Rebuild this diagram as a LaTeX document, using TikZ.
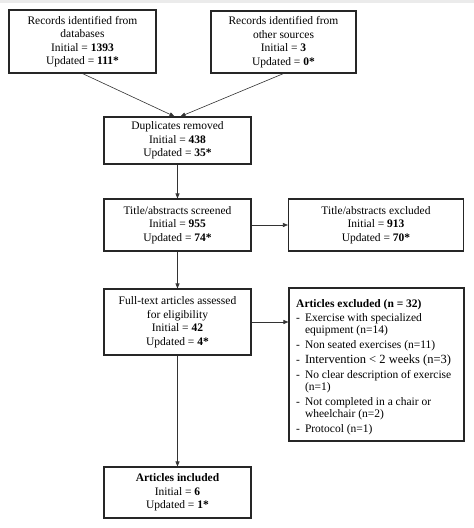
\documentclass[tikz,border=0pt]{standalone}
\usepackage{fontspec}
\setmainfont{Liberation Serif}
\usetikzlibrary{arrows.meta,calc}
\begin{document}
\begin{tikzpicture}[x=1pt,y=-1pt,
  box/.style={draw=black!85, line width=1.1pt, align=center, inner sep=0pt,
    font=\fontsize{11.5}{13.5}\selectfont},
  arr/.style={draw=black!80, line width=0.6pt, -{Triangle[length=5pt,width=4pt]}}]
\useasboundingbox (0,0) rectangle (474,528);
\fill[white] (0,0) rectangle (474,528);
\fill[black!8] (0,0) rectangle (474,2.5);
\node[box, minimum width=147pt, minimum height=63pt] (b1) at (82.5,41.5)
  {Records identified from\\databases\\Initial = \textbf{1393}\\Updated = \textbf{111*}};
\node[box, minimum width=145pt, minimum height=62pt] (b2) at (283.5,42)
  {Records identified from\\other sources\\Initial = \textbf{3}\\Updated = \textbf{0*}};
\node[box, minimum width=147pt, minimum height=47pt] (dup) at (177.5,140.5)
  {Duplicates removed\\Initial = \textbf{438}\\Updated = \textbf{35*}};
\node[box, minimum width=147pt, minimum height=52pt] (scr) at (177.5,225)
  {Title/abstracts screened\\Initial = \textbf{955}\\Updated = \textbf{74*}};
\node[box, minimum width=175pt, minimum height=52pt] (exc) at (376,225)
  {Title/abstracts excluded\\Initial = \textbf{913}\\Updated = \textbf{70*}};
\node[box, minimum width=147pt, minimum height=66pt] (full) at (177.5,322)
  {Full-text articles assessed\\for eligibility\\Initial = \textbf{42}\\Updated = \textbf{4*}};
\node[box, minimum width=175pt, minimum height=153pt] (art) at (376.5,364.5) {};
\node[anchor=north west, inner sep=0pt, align=left,
  font=\fontsize{11.5}{12}\selectfont] (arttext) at (296,299)
  {\textbf{Articles excluded (n = 32)}\\[2pt]
   -\hspace{5pt}Exercise with specialized\\
   \hphantom{-}\hspace{5pt}equipment (n=14)\\[3pt]
   -\hspace{5pt}Non seated exercises (n=11)\\[3pt]
   -\hspace{5pt}{\fontsize{12.5}{12}\selectfont Intervention < 2 weeks (n=3)}\\[3pt]
   -\hspace{5pt}No clear description of exercise\\
   \hphantom{-}\hspace{5pt}(n=1)\\[3pt]
   -\hspace{5pt}Not completed in a chair or\\
   \hphantom{-}\hspace{5pt}wheelchair (n=2)\\[3pt]
   -\hspace{5pt}Protocol (n=1)};
\node[box, minimum width=147pt, minimum height=51pt] (inc) at (177.5,492.5)
  {\textbf{Articles included}\\Initial = \textbf{6}\\Updated = \textbf{1*}};
\draw[arr] (b1.south) -- ([xshift=-3pt]dup.north);
\draw[arr] (b2.south) -- ([xshift=3pt]dup.north);
\draw[arr] (dup.south) -- (scr.north);
\draw[arr] (scr.east) -- (exc.west);
\draw[arr] (scr.south) -- (full.north);
\draw[arr] (full.east) -- (full.east -| art.west);
\draw[arr] (full.south) -- (inc.north);
\end{tikzpicture}
\end{document}
